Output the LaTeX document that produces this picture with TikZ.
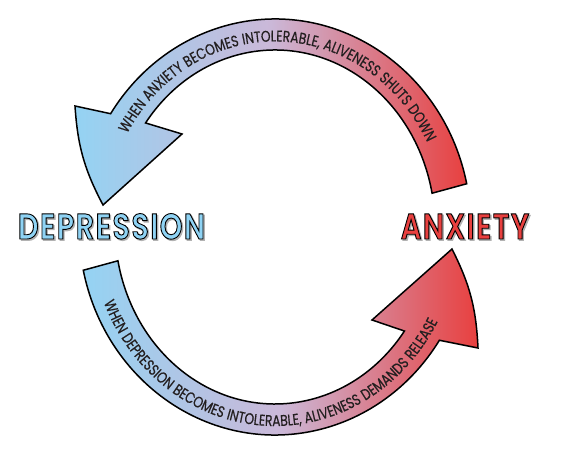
\documentclass[tikz,border=0pt]{standalone}
\usepackage{fontspec}
\usetikzlibrary{calc,decorations.text}
\IfFontExistsTF{Poppins SemiBold}
  {\newfontfamily\titlefont{Poppins SemiBold}[FakeStretch=0.8, LetterSpace=4]}
  {\newfontfamily\titlefont{Poppins}[FakeStretch=0.8, LetterSpace=4]}
\newfontfamily\arcfont{Poppins}[FakeStretch=0.79, FakeBold=0.5, LetterSpace=3]
\definecolor{dblue}{HTML}{8FD3F4}
\definecolor{ared}{HTML}{E8403F}
\definecolor{gblue}{HTML}{94D3F3}
\definecolor{gmid}{HTML}{CBB8D8}
\definecolor{gred}{HTML}{E8403F}
\definecolor{ink}{HTML}{231F20}
\newcommand{\olcopy}[3]{\rlap{\kern#1\raisebox{#2}{#3}}}
\newcommand{\outlinedword}[2]{%
  \olcopy{1.4pt}{-1.4pt}{\color{black!30}\special{pdf:code 2 Tr 1 w}#2\special{pdf:code 0 Tr}}%
  {\color{#1}\special{pdf:code 0 0 0 RG 2 Tr 0.9 w}#2\special{pdf:code 0 Tr}}}
\tikzset{
  band/.style={draw=black, line width=1.5pt, line join=miter},
  titletxt/.style={inner sep=0pt, anchor=base, font=\titlefont\fontsize{36}{40}\selectfont},
  arctext/.style={decorate, decoration={text along path, text align=center,
      text={|\arcfont\fontsize{15.5}{16}\selectfont\color{ink}|#1}}}
}
\begin{document}
\begin{tikzpicture}[x=1pt,y=1pt]
\useasboundingbox (0,0) rectangle (567,460);
\coordinate (c) at (275,233);
% top arrow: anxiety -> depression
\path[band, left color=gblue, right color=gred, middle color=gmid]
  ($(c)+(12:196pt and 208pt)$) arc[start angle=12, end angle=147, x radius=196pt, y radius=208pt]
  -- (75,354) coordinate (tb1) to[bend right=12] (103,255) coordinate (ttip) -- (182,326) coordinate (tb2)
  -- ($(c)+(144:160pt and 177pt)$) arc[start angle=144, end angle=11, x radius=160pt, y radius=177pt]
  -- cycle;
% bottom arrow: depression -> anxiety
\path[band, left color=gblue, right color=gred, middle color=gmid]
  ($(c)+(192:196pt and 208pt)$) arc[start angle=192, end angle=327, x radius=196pt, y radius=208pt]
  -- (478,112) coordinate (bb1) to[bend right=12] (452,211) coordinate (btip) -- (372,140) coordinate (bb2)
  -- ($(c)+(324:160pt and 177pt)$) arc[start angle=324, end angle=191, x radius=160pt, y radius=177pt]
  -- cycle;
% curved labels
\path[arctext={WHEN ANXIETY BECOMES INTOLERABLE, ALIVENESS SHUTS DOWN}]
  ($(c)+(160:171pt and 185.5pt)$) arc[start angle=160, end angle=17, x radius=171pt, y radius=185.5pt];
\path[arctext={WHEN DEPRESSION BECOMES INTOLERABLE, ALIVENESS DEMANDS RELEASE}]
  ($(c)+(190:185pt and 199pt)$) arc[start angle=190, end angle=344, x radius=185pt, y radius=199pt];
% titles
\node[titletxt] (dep) at (111.5,221) {\outlinedword{dblue}{DEPRESSION}};
\node[titletxt] (anx) at (465,221) {\outlinedword{ared}{ANXIETY}};
\end{tikzpicture}
\end{document}
